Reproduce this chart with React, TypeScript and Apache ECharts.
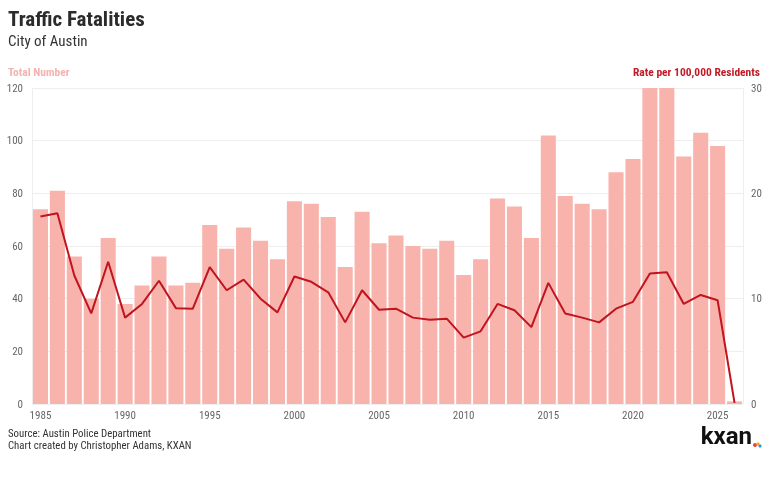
import React, { useEffect, useRef } from "react";
import * as echarts from "echarts";

const years = [
  "1985","1986","1987","1988","1989","1990","1991","1992","1993","1994",
  "1995","1996","1997","1998","1999","2000","2001","2002","2003","2004",
  "2005","2006","2007","2008","2009","2010","2011","2012","2013","2014",
  "2015","2016","2017","2018","2019","2020","2021","2022","2023","2024",
  "2025","2026",
];
const totalNumber = [
  74, 81, 56, 40, 63, 38, 45, 56, 45, 46,
  68, 59, 67, 62, 55, 77, 76, 71, 52, 73,
  61, 64, 60, 59, 62, 49, 55, 78, 75, 63,
  102, 79, 76, 74, 88, 93, 120, 120, 94, 103,
  98, 1,
];
const ratePer100k = [
  17.8, 18.1, 12.2, 8.6, 13.5, 8.2, 9.5, 11.7, 9.1, 9.05,
  13.0, 10.8, 11.8, 10.0, 8.7, 12.1, 11.6, 10.6, 7.75, 10.8,
  8.95, 9.05, 8.2, 8.0, 8.1, 6.3, 6.9, 9.5, 8.9, 7.3,
  11.5, 8.6, 8.2, 7.75, 9.05, 9.7, 12.4, 12.5, 9.5, 10.35,
  9.85, 0.1,
];
const leftTicks = [0, 20, 40, 60, 80, 100, 120];
const rightTicks = [0, 10, 20, 30];

const FONT = "'Roboto Condensed', 'Liberation Sans Narrow', 'DejaVu Sans Condensed', Roboto, sans-serif";

export default function App() {
  const ref = useRef<HTMLDivElement>(null);
  useEffect(() => {
    if (!ref.current) return;
    const chart = echarts.init(ref.current, undefined, { renderer: "svg" });
    chart.setOption({
      animation: false,
      textStyle: { fontFamily: FONT },
      grid: { left: 32, right: 25, top: 88, bottom: 73, containLabel: false },
      graphic: [
        { type: "text", left: 8, top: 8, style: { text: "Traffic Fatalities", fontFamily: FONT, fontSize: 21, fontWeight: "bold", fill: "#2b2b2b" } },
        { type: "text", left: 8, top: 33, style: { text: "City of Austin", fontFamily: FONT, fontSize: 15, fill: "#333" } },
        { type: "text", left: 8, top: 66, style: { text: "Total Number", fontFamily: FONT, fontSize: 11.5, fontWeight: "bold", fill: "#f4b3ae" } },
        { type: "text", right: 8, top: 66, style: { text: "Rate per 100,000 Residents", fontFamily: FONT, fontSize: 11.5, fontWeight: "bold", fill: "#c21a26" } },
        { type: "text", left: 8, top: 428, style: { text: "Source: Austin Police Department", fontFamily: FONT, fontSize: 10.8, fill: "#333" } },
        { type: "text", left: 8, top: 440, style: { text: "Chart created by Christopher Adams, KXAN", fontFamily: FONT, fontSize: 10.8, fill: "#333" } },
        { type: "text", right: 16, top: 424, style: { text: "kxan", fontFamily: "Roboto, sans-serif", fontSize: 24, fontWeight: "bold", fill: "#111" } },
        { type: "circle", shape: { cx: 755, cy: 445, r: 2 }, style: { fill: "#e8483a" } },
        { type: "circle", shape: { cx: 758, cy: 444, r: 1.6 }, style: { fill: "#f5a623" } },
        { type: "circle", shape: { cx: 760, cy: 446, r: 1.6 }, style: { fill: "#3a8fd8" } },
      ],
      xAxis: {
        type: "category",
        data: years,
        axisTick: { show: false },
        axisLine: { show: false },
        axisLabel: {
          color: "#666",
          fontSize: 11,
          margin: 6,
          interval: (i: number) => i % 5 === 0,
        },
      },
      yAxis: [
        {
          type: "value",
          min: 0,
          max: 120,
          interval: 20,
          axisLine: { show: true, lineStyle: { color: "#eeeeee" } },
          axisTick: { show: false },
          splitLine: { lineStyle: { color: "#eeeeee" } },
          axisLabel: {
            color: "#666",
            fontSize: 11,
            margin: 9,
            formatter: (v: number) => (leftTicks.includes(v) ? String(v) : ""),
          },
        },
        {
          type: "value",
          min: 0,
          max: 30,
          interval: 5,
          position: "right",
          axisLine: { show: true, lineStyle: { color: "#eeeeee" } },
          axisTick: { show: false },
          splitLine: { show: false },
          axisLabel: {
            color: "#666",
            fontSize: 11,
            margin: 8,
            formatter: (v: number) => (rightTicks.includes(v) ? String(v) : ""),
          },
        },
      ],
      series: [
        {
          type: "bar",
          data: totalNumber,
          yAxisIndex: 0,
          barCategoryGap: "11%",
          itemStyle: { color: "#f9b3ad" },
          clip: true,
        },
        {
          type: "line",
          data: ratePer100k,
          yAxisIndex: 1,
          symbol: "none",
          lineStyle: { color: "#c0141f", width: 2 },
        },
      ],
    });
    return () => chart.dispose();
  }, []);
  return <div ref={ref} style={{ position: "fixed", left: 0, top: 0, width: 768, height: 477 }} />;
}
